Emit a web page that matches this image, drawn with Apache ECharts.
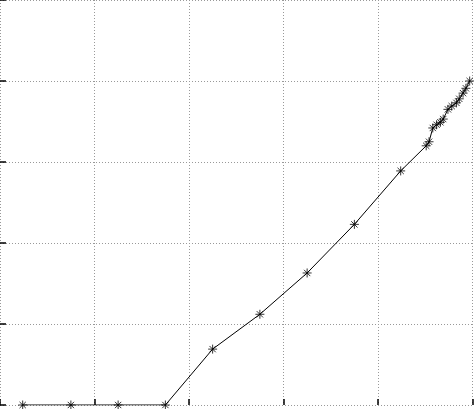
<!DOCTYPE html>
<html>
<head>
<meta charset="UTF-8">
<script src="https://cdn.jsdelivr.net/npm/echarts@6/dist/echarts.min.js"></script>
<style>html,body{margin:0;padding:0;background:#fff}</style>
</head>
<body>
<div id="chart" style="width:474px;height:409px;"></div>
<script>
// x and y values
const xs = [0.24, 0.75, 1.25, 1.75, 2.25, 2.75, 3.25, 3.75, 4.24, 4.51, 4.54, 4.58, 4.62, 4.66, 4.69, 4.74, 4.78, 4.83, 4.86, 4.90, 4.93, 4.97];
const ys = [0, 0, 0, 0, 0.69, 1.12, 1.63, 2.23, 2.89, 3.20, 3.25, 3.42, 3.46, 3.49, 3.53, 3.65, 3.69, 3.73, 3.78, 3.85, 3.91, 4.0];

const chart = echarts.init(document.getElementById('chart'));
const gridLine = { show: true, lineStyle: { color: '#999', type: [1, 2], width: 1 } };
chart.setOption({
  animation: false,
  grid: { left: 0, right: 1.5, top: 0, bottom: 4 },
  xAxis: {
    type: 'value', min: 0, max: 5, interval: 1,
    axisLine: { show: false },
    axisLabel: { show: false },
    axisTick: { show: true, inside: true, length: 6, lineStyle: { color: '#000', width: 1.5 } },
    splitLine: gridLine
  },
  yAxis: {
    type: 'value', min: 0, max: 5, interval: 1,
    axisLine: { show: false },
    axisLabel: { show: false },
    axisTick: { show: true, inside: true, length: 6, lineStyle: { color: '#000', width: 1.5 } },
    splitLine: gridLine
  },
  series: [{
    type: 'line',
    data: xs.map((x, i) => [x, ys[i]]),
    symbol: 'path://M0,5L10,5M5,0L5,10M1.5,1.5L8.5,8.5M8.5,1.5L1.5,8.5',
    symbolSize: 9,
    itemStyle: { color: 'none', borderColor: '#000', borderWidth: 0.8 },
    lineStyle: { color: '#000', width: 1 }
  }]
});
</script>
</body>
</html>
